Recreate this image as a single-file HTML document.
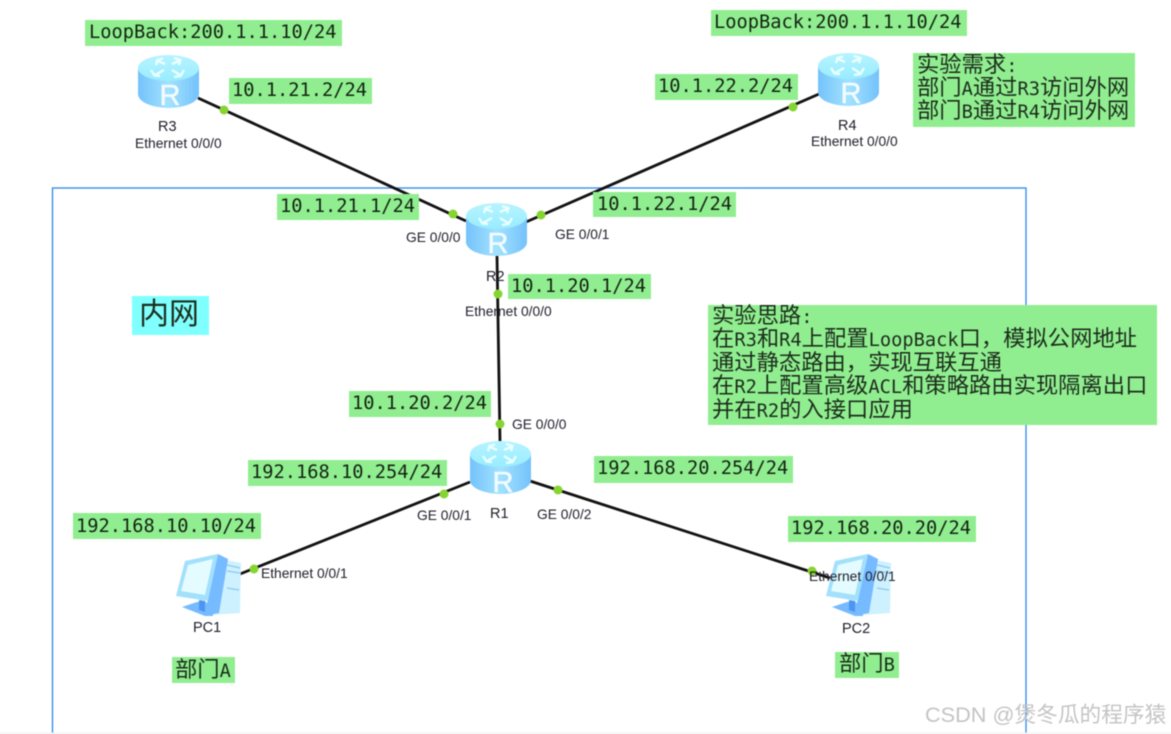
<!DOCTYPE html>
<html lang="zh"><head><meta charset="utf-8"><title>Network diagram</title>
<style>
html,body{margin:0;padding:0;background:#fff;width:1171px;height:734px;overflow:hidden}
svg{display:block;filter:blur(.4px)}
.m{font-family:"DejaVu Sans Mono","Liberation Mono",monospace;font-size:18.7px;fill:#142414}
.c{font-family:"Liberation Sans","Noto Sans CJK SC",sans-serif;font-size:22.3px;fill:#1c2c1c}
.c tspan{font-family:"DejaVu Sans Mono","Liberation Mono",monospace;font-size:18.7px}
.a{font-family:"Liberation Sans",sans-serif;font-size:13.8px;fill:#20202c}
.n{font-family:"Liberation Sans",sans-serif;font-size:14.5px;fill:#20202c}
.g{fill:#90ee90}
.d{fill:#85d531}
.r{font-family:"Liberation Sans",sans-serif;font-size:29px;fill:#f2fbff;text-anchor:middle;stroke:#f2fbff;stroke-width:.5px}
</style></head><body>
<svg width="1171" height="734" viewBox="0 0 1171 734" xmlns="http://www.w3.org/2000/svg">
<defs>
<linearGradient id="side" x1="0" x2="1" y1="0" y2="0"><stop offset="0" stop-color="#74c2fb"/><stop offset=".5" stop-color="#a2e2ff"/><stop offset="1" stop-color="#74c2fb"/></linearGradient>
<linearGradient id="top" x1="0" x2="0" y1="0" y2="1"><stop offset="0" stop-color="#b8f3ff"/><stop offset="1" stop-color="#98edff"/></linearGradient>
<g id="router">
<path d="M0 13V39A30.500 14 0 0 0 61 39V13Z" fill="url(#side)"/>
<ellipse cx="30.500" cy="13" rx="30.500" ry="13" fill="url(#top)"/>
<g fill="none" stroke="#eaffff" stroke-width="2.400">
<path d="M27 9L20 6M18 10L19.500 5L25 3.500"/>
<path d="M34 9L42 5.500M36 3L42.500 5L41 10"/>
<path d="M26 15L17 20M13 15L16.500 20.500L22 21"/>
<path d="M34 15L42 20M46 15L42.500 21L36 22"/>
</g>
</g>
<g id="pc">
<path d="M46 6L66 10L65 60L36 62Z" fill="#cdf1ff"/>
<path d="M43 1L53 6L44 60L33 62L32 50Z" fill="#76baff"/>
<path d="M1 43L10 8L43 1L33 48Z" fill="#a2e0fb"/>
<path d="M6 38L13 12L38 6L30 42Z" fill="#e4fcff"/>
<path d="M7 54L22 49L30 48L38 58L38 63L30 63Z" fill="#76baff"/>
<path d="M24 47L30 48L30 59L24 57Z" fill="#4d96f0"/>
<path d="M52 12L65 15M52 18L65 20M52 35L64 37" stroke="#8cc8ee" stroke-width="1.200"/>
</g>
</defs>

<rect x="52.500" y="188" width="973.500" height="560" fill="none" stroke="#2e86ee" stroke-width="1.300"/>
<rect x="0" y="732.500" width="1171" height="2" fill="#f1f1f1"/>

<g stroke="#111" stroke-width="2.800" fill="none">
<path d="M198 98L466 221"/>
<path d="M819 94L526 222"/>
<path d="M497 256L500 441"/>
<path d="M470 482L240 574"/>
<path d="M530 481L830 578"/>
</g>

<use href="#router" x="138" y="55"/><text class="r" x="170" y="105">R</text>
<use href="#router" x="818" y="53"/><text class="r" x="851" y="103">R</text>
<use href="#router" x="466" y="203"/><text class="r" x="498" y="253">R</text>
<use href="#router" x="470" y="441"/><text class="r" x="503" y="492">R</text>
<use href="#pc" x="175" y="553"/>
<use href="#pc" x="825" y="553"/>

<circle class="d" cx="224" cy="110" r="4.500"/>
<circle class="d" cx="453" cy="214" r="4.500"/>
<circle class="d" cx="793" cy="107" r="4.500"/>
<circle class="d" cx="541" cy="215" r="4.500"/>
<circle class="d" cx="498" cy="294" r="4.500"/>
<circle class="d" cx="500" cy="424" r="4.500"/>
<circle class="d" cx="444" cy="494" r="4.500"/>
<circle class="d" cx="558" cy="490" r="4.500"/>
<circle class="d" cx="254" cy="569" r="4.500"/>
<circle class="d" cx="812" cy="571" r="4.500"/>

<rect class="g" x="85" y="20" width="257" height="26"/><text class="m" x="89" y="38">LoopBack:200.1.1.10/24</text>
<rect class="g" x="711" y="10" width="256" height="26"/><text class="m" x="714" y="28">LoopBack:200.1.1.10/24</text>
<rect class="g" x="229" y="78" width="143" height="26"/><text class="m" x="232" y="96">10.1.21.2/24</text>
<rect class="g" x="655" y="74" width="143" height="26"/><text class="m" x="658" y="92">10.1.22.2/24</text>
<rect class="g" x="277" y="194" width="142" height="26"/><text class="m" x="280" y="212">10.1.21.1/24</text>
<rect class="g" x="593" y="192" width="143" height="25"/><text class="m" x="597" y="210">10.1.22.1/24</text>
<rect class="g" x="508" y="274" width="143" height="25"/><text class="m" x="511" y="292">10.1.20.1/24</text>
<rect class="g" x="349" y="391" width="142" height="26"/><text class="m" x="352" y="409">10.1.20.2/24</text>
<rect class="g" x="248" y="460" width="199" height="26"/><text class="m" x="251" y="478">192.168.10.254/24</text>
<rect class="g" x="594" y="456" width="199" height="27"/><text class="m" x="597" y="474">192.168.20.254/24</text>
<rect class="g" x="73" y="513" width="188" height="26"/><text class="m" x="76" y="532">192.168.10.10/24</text>
<rect class="g" x="788" y="516" width="188" height="26"/><text class="m" x="791" y="534">192.168.20.20/24</text>

<rect class="g" x="172" y="657" width="63" height="26"/>
<text class="c" x="175" y="677">部门<tspan>A</tspan></text>
<rect class="g" x="835" y="652" width="64" height="26"/>
<text class="c" x="839" y="671">部门<tspan>B</tspan></text>

<rect x="132" y="296" width="77" height="39" fill="#80ffff"/>
<text class="c" x="139" y="324" style="font-size:30px">内网</text>

<rect class="g" x="913" y="53" width="222" height="74"/>
<text class="c" x="917" y="72">实验需求<tspan>:</tspan></text>
<text class="c" x="917" y="95">部门<tspan>A</tspan>通过<tspan>R3</tspan>访问外网</text>
<text class="c" x="917" y="118">部门<tspan>B</tspan>通过<tspan>R4</tspan>访问外网</text>

<rect class="g" x="708" y="305" width="449" height="120"/>
<text class="c" x="712" y="323">实验思路<tspan>:</tspan></text>
<text class="c" x="712" y="346">在<tspan>R3</tspan>和<tspan>R4</tspan>上配置<tspan>LoopBack</tspan>口&#xFF0C;模拟公网地址</text>
<text class="c" x="712" y="370">通过静态路由&#xFF0C;实现互联互通</text>
<text class="c" x="712" y="393">在<tspan>R2</tspan>上配置高级<tspan>ACL</tspan>和策略路由实现隔离出口</text>
<text class="c" x="712" y="417">并在<tspan>R2</tspan>的入接口应用</text>

<text class="n" x="158" y="131">R3</text>
<text class="a" x="135" y="148">Ethernet 0/0/0</text>
<text class="n" x="838" y="130">R4</text>
<text class="a" x="811" y="146">Ethernet 0/0/0</text>
<text class="n" x="486" y="281">R2</text>
<text class="a" x="465" y="316">Ethernet 0/0/0</text>
<text class="a" x="406" y="242">GE 0/0/0</text>
<text class="a" x="555" y="239">GE 0/0/1</text>
<text class="a" x="512" y="429">GE 0/0/0</text>
<text class="n" x="490" y="518">R1</text>
<text class="a" x="417" y="520">GE 0/0/1</text>
<text class="a" x="537" y="519">GE 0/0/2</text>
<text class="a" x="261" y="578">Ethernet 0/0/1</text>
<text class="n" x="193" y="632">PC1</text>
<text class="a" x="809" y="581">Ethernet 0/0/1</text>
<text class="n" x="842" y="633">PC2</text>

<text x="925" y="722" style="font-family:'Liberation Sans','Noto Sans CJK SC',sans-serif;font-size:21.7px;fill:#c4c4c4">CSDN @煲冬瓜的程序猿</text>
</svg>
</body></html>
